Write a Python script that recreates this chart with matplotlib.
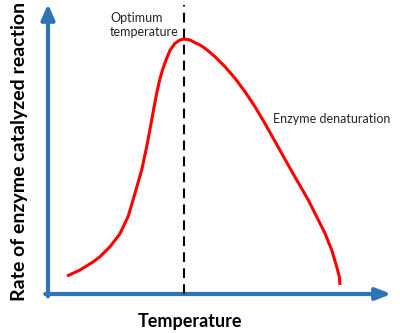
import matplotlib
matplotlib.use("Agg")
import matplotlib.pyplot as plt

# Data (temperature in arbitrary units 0..100, rate in arbitrary units 0..100)
temperature = [5.59, 9.41, 13.24, 15.29, 18.24, 21.18, 23.62, 25.59, 27.56, 29.03,
               30.50, 31.03, 31.97, 32.94, 33.91, 34.91, 35.88, 37.35, 38.82, 40.00,
               41.76, 43.24, 44.71, 46.18, 49.12, 52.06, 55.00, 57.94, 60.88, 63.82,
               67.35, 72.06, 76.56, 79.03, 81.47, 83.44, 84.91, 85.68, 85.88]
rate = [6.27, 8.36, 11.15, 13.00, 16.48, 21.00, 27.18, 35.09, 43.21, 51.32,
        60.63, 64.11, 69.93, 75.09, 78.92, 82.13, 84.90, 87.35, 88.50, 88.85,
        88.50, 87.56, 86.76, 85.61, 82.68, 79.20, 75.16, 70.49, 65.26, 59.41,
        51.92, 41.99, 32.75, 26.93, 21.15, 15.33, 9.51, 6.03, 3.14]
optimum_temp = 40
x_label = "Temperature"
y_label = "Rate of enzyme catalyzed reaction"
optimum_label = "Optimum\ntemperature"
denat_label = "Enzyme denaturation"

plt.rcParams['lines.scale_dashes'] = False
FONT = ['Lato', 'DejaVu Sans']

fig = plt.figure(figsize=(4.0, 3.33), dpi=100)
ax = fig.add_axes([48/400, 39/333, 340/400, 287/333])
ax.set_xlim(0, 100)
ax.set_ylim(0, 100)
ax.axis('off')

blue = '#2E75B6'
# axes arrows
ax.annotate('', xy=(101, 0), xytext=(-0.8, 0), xycoords='data',
            arrowprops=dict(arrowstyle='-|>,head_length=0.9,head_width=0.35',
                            color=blue, lw=3, shrinkA=0, shrinkB=0),
            annotation_clip=False)
ax.annotate('', xy=(0, 101), xytext=(0, -0.8), xycoords='data',
            arrowprops=dict(arrowstyle='-|>,head_length=0.9,head_width=0.4',
                            color=blue, lw=3, shrinkA=0, shrinkB=0),
            annotation_clip=False)

# optimum dashed line
ax.plot([optimum_temp, optimum_temp], [0, 100.7], color='black', lw=1.5,
        dashes=(7, 4.5), clip_on=False, zorder=3)

# curve
ax.plot(temperature, rate, color='#FF0000', lw=2.2, solid_capstyle='butt',
        solid_joinstyle='round', clip_on=False, zorder=4)

# annotations
fig.text(110/400, 1 - 25/333, optimum_label, family=FONT, fontsize=9,
         color='#262626', ha='left', va='center', linespacing=1.3)
fig.text(273/400, 1 - 119/333, denat_label, family=FONT, fontsize=9,
         color='#262626', ha='left', va='center')

fig.text(190/400, 1 - 321/333, x_label, family=FONT, fontsize=13,
         fontweight='bold', color='black', ha='center', va='center')
fig.text(20/400, 1 - 151/333, y_label, family=FONT, fontsize=14,
         fontweight='bold', color='black', ha='center', va='center', rotation=90)

fig.savefig('out.png', dpi=100)
